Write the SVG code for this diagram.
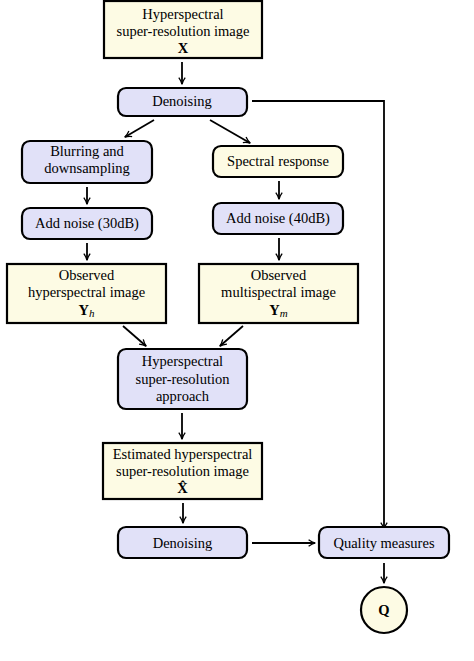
<svg xmlns="http://www.w3.org/2000/svg" width="474" height="661" viewBox="0 0 474 661">
<defs>
<style>
.box{stroke:#000;stroke-width:2.2}
.y{fill:#fdfbe4}
.b{fill:#e1e1f8}
text{font-family:'Liberation Serif','Times New Roman','DejaVu Serif',serif;font-size:14.5px;fill:#000;text-anchor:middle}
.m{font-weight:bold}
.c{fill:none;stroke:#000;stroke-width:1.8}
</style>
<marker id="ah" viewBox="0 0 10 10" refX="9" refY="5" markerWidth="8" markerHeight="8" markerUnits="userSpaceOnUse" orient="auto">
<path d="M1,1 Q5,4 9.5,5 Q5,6 1,9" fill="none" stroke="#000" stroke-width="1.6"/>
</marker>
</defs>
<rect width="474" height="661" fill="#fff"/>
<g id="connectors">
<line class="c" x1="182" y1="62" x2="182" y2="84" marker-end="url(#ah)"/>
<polyline class="c" points="252,101 384,101 384,529" marker-end="url(#ah)"/>
<line class="c" x1="154" y1="120" x2="125" y2="137" marker-end="url(#ah)"/>
<line class="c" x1="210" y1="120" x2="250" y2="143" marker-end="url(#ah)"/>
<line class="c" x1="87" y1="187" x2="87" y2="204" marker-end="url(#ah)"/>
<line class="c" x1="279" y1="181" x2="279" y2="199" marker-end="url(#ah)"/>
<line class="c" x1="87" y1="243" x2="87" y2="260" marker-end="url(#ah)"/>
<line class="c" x1="279" y1="238" x2="279" y2="260" marker-end="url(#ah)"/>
<line class="c" x1="123" y1="326" x2="146" y2="346" marker-end="url(#ah)"/>
<line class="c" x1="243" y1="326" x2="220" y2="346" marker-end="url(#ah)"/>
<line class="c" x1="182" y1="413" x2="182" y2="439" marker-end="url(#ah)"/>
<line class="c" x1="183" y1="503" x2="183" y2="523" marker-end="url(#ah)"/>
<line class="c" x1="252" y1="543" x2="315" y2="543" marker-end="url(#ah)"/>
<line class="c" x1="384" y1="563" x2="384" y2="583" marker-end="url(#ah)"/>
</g>
<g id="input">
<rect class="box y" x="104" y="1" width="158" height="57"/>
<text x="183" y="19">Hyperspectral</text>
<text x="183" y="36">super-resolution image</text>
<text x="183" y="53" class="m">X</text>
</g>
<g id="denoise1">
<rect class="box b" x="118" y="88" width="129" height="28" rx="8"/>
<text x="182" y="106">Denoising</text>
</g>
<g id="blur">
<rect class="box b" x="22" y="141" width="130" height="42" rx="8"/>
<text x="87" y="156">Blurring and</text>
<text x="87" y="173">downsampling</text>
</g>
<g id="spectral">
<rect class="box y" x="213" y="146" width="130" height="31" rx="8"/>
<text x="278" y="166">Spectral response</text>
</g>
<g id="noise30">
<rect class="box b" x="22" y="208" width="130" height="31" rx="8"/>
<text x="87" y="228">Add noise (30dB)</text>
</g>
<g id="noise40">
<rect class="box b" x="213" y="203" width="130" height="31" rx="8"/>
<text x="278" y="223">Add noise (40dB)</text>
</g>
<g id="obsh">
<rect class="box y" x="7" y="264" width="159" height="59"/>
<text x="86.5" y="280">Observed</text>
<text x="86.5" y="297">hyperspectral image</text>
<text x="86.5" y="315"><tspan class="m">Y</tspan><tspan font-style="italic" font-size="11px" dy="2">h</tspan></text>
</g>
<g id="obsm">
<rect class="box y" x="199" y="264" width="159" height="59"/>
<text x="278.5" y="280">Observed</text>
<text x="278.5" y="297">multispectral image</text>
<text x="278.5" y="315"><tspan class="m">Y</tspan><tspan font-style="italic" font-size="11px" dy="2">m</tspan></text>
</g>
<g id="approach">
<rect class="box b" x="118" y="349" width="129" height="60" rx="8"/>
<text x="182.5" y="366">Hyperspectral</text>
<text x="182.5" y="384">super-resolution</text>
<text x="182.5" y="401">approach</text>
</g>
<g id="estimated">
<rect class="box y" x="103" y="443" width="159" height="56"/>
<text x="182.5" y="459">Estimated hyperspectral</text>
<text x="182.5" y="476">super-resolution image</text>
<text x="182.5" y="493" class="m">X̂</text>
</g>
<g id="denoise2">
<rect class="box b" x="118" y="527" width="129" height="31" rx="8"/>
<text x="182.5" y="548">Denoising</text>
</g>
<g id="quality">
<rect class="box b" x="319" y="527" width="130" height="31" rx="8"/>
<text x="384" y="548">Quality measures</text>
</g>
<g id="q">
<circle class="box y" cx="384" cy="610" r="23"/>
<text x="384" y="615" class="m" font-size="14px">Q</text>
</g>
</svg>
